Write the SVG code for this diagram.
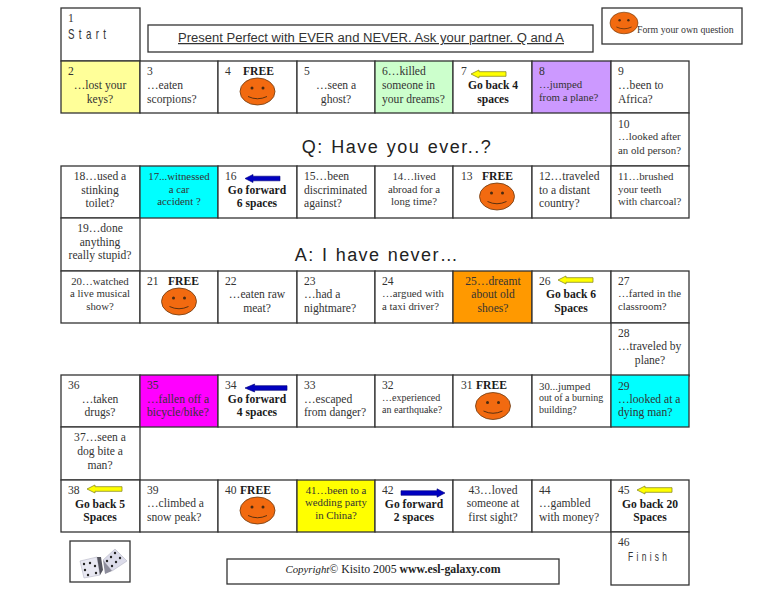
<svg xmlns="http://www.w3.org/2000/svg" xmlns:xlink="http://www.w3.org/1999/xlink" width="768" height="594" viewBox="0 0 768 594">
<style>
text{font-family:"Liberation Serif","Times New Roman",serif;font-size:11.6px;fill:#333}
.c{text-anchor:middle}
.b{font-weight:bold;fill:#1a1a1a}
.s{font-size:10.8px}
.xs{font-size:10px}
.sp{font-family:"Liberation Sans",Arial,sans-serif}
rect{stroke:#333;stroke-width:1.3;fill:#fff}
.back{fill:#ffff00;stroke:#8a8a20;stroke-width:.8}
.fwd{fill:#0000c0;stroke:#00007a;stroke-width:.6}
</style>
<defs>
<g id="smile">
<ellipse cx="0" cy="0" rx="17.500" ry="13.500" fill="#f26a10" stroke="#6b3a10" stroke-width=".8"/>
<circle cx="-5.500" cy="-3.500" r="1.500" fill="#4a2a10"/>
<circle cx="5.500" cy="-3.500" r="1.500" fill="#4a2a10"/>
<path d="M-9.500 5Q0 9.500 9.500 5" fill="none" stroke="#4a2a10" stroke-width=".9"/>
</g>
<path id="left" d="M0 0L8-4V-2.300H35V2.300H8V4Z"/>
<path id="right" d="M0-2.300H36V-4.200L44 0L36 4.200V2.300H0Z"/>
</defs>

<g id="connectors"></g>

<g id="header">
<g id="n1"><rect x="61" y="8" width="79" height="53"/><text x="68" y="22">1</text><text class="sp" transform="translate(68 39) scale(.7 1)" style="font-size:14px;letter-spacing:6.200px">Start</text></g>
<g id="title"><rect x="148" y="25" width="445" height="27"/><text x="178" y="42" class="sp" style="font-size:12.500px" textLength="386" lengthAdjust="spacingAndGlyphs" text-decoration="underline">Present Perfect with EVER and NEVER. Ask your partner. Q and A</text></g>
<g id="own"><rect x="602" y="8" width="140" height="36"/><use xlink:href="#smile" transform="translate(624 23) scale(.8)"/><text x="637" y="33" class="xs" style="font-size:9.800px">Form your own question</text></g>
</g>

<g id="n2"><rect x="61" y="61" width="79" height="52" style="fill:#ffff99"/><text x="68" y="75">2</text><text x="100" y="89" class="c">…lost your</text><text x="100" y="103" class="c">keys?</text></g>
<g id="n3"><rect x="140" y="61" width="78" height="52"/><text x="147" y="75">3</text><text x="147" y="89">…eaten</text><text x="147" y="103">scorpions?</text></g>
<g id="n4"><rect x="218" y="61" width="79" height="52"/><text x="225" y="75">4</text><text x="243" y="75" class="b">FREE</text><use xlink:href="#smile" transform="translate(257.500 91.500)"/></g>
<g id="n5"><rect x="297" y="61" width="78" height="52"/><text x="304" y="75">5</text><text x="336" y="89" class="c">…seen a</text><text x="336" y="103" class="c">ghost?</text></g>
<g id="n6"><rect x="375" y="61" width="78" height="52" style="fill:#ccffcc"/><text x="382" y="75">6…killed</text><text x="382" y="89">someone in</text><text x="382" y="103">your dreams?</text></g>
<g id="n7"><rect x="453" y="61" width="79" height="52"/><text x="461" y="75">7</text><use xlink:href="#left" class="back" transform="translate(471 74)"/><text x="493" y="89" class="c b">Go back 4</text><text x="493" y="103" class="c b">spaces</text></g>
<g id="n8"><rect x="532" y="61" width="79" height="52" style="fill:#cc99ff"/><text x="539" y="75">8</text><text x="539" y="88" class="s">…jumped</text><text x="539" y="101" class="s">from a plane?</text></g>
<g id="n9"><rect x="611" y="61" width="78" height="52"/><text x="618" y="75">9</text><text x="618" y="89">…been to</text><text x="618" y="103">Africa?</text></g>
<g id="n10"><rect x="611" y="113" width="78" height="53"/><text x="618" y="128">10</text><text x="618" y="140" class="s">…looked after</text><text x="618" y="154" class="s">an old person?</text></g>

<text x="397" y="153" class="c sp" style="font-size:18px;letter-spacing:1.500px;word-spacing:1px;fill:#222">Q: Have you ever..?</text>

<g id="n18"><rect x="61" y="166" width="79" height="52"/><text x="100" y="180" class="c">18…used a</text><text x="100" y="194" class="c">stinking</text><text x="100" y="207" class="c">toilet?</text></g>
<g id="n17"><rect x="140" y="166" width="78" height="52" style="fill:#00ffff"/><text x="179" y="180" class="c s">17...witnessed</text><text x="179" y="193" class="c s">a car</text><text x="179" y="205" class="c s">accident ?</text></g>
<g id="n16"><rect x="218" y="166" width="79" height="52"/><text x="225" y="180">16</text><use xlink:href="#left" class="fwd" transform="translate(245 178.500)"/><text x="257" y="194" class="c b">Go forward</text><text x="257" y="207" class="c b">6 spaces</text></g>
<g id="n15"><rect x="297" y="166" width="78" height="52"/><text x="304" y="180">15…been</text><text x="304" y="194">discriminated</text><text x="304" y="207">against?</text></g>
<g id="n14"><rect x="375" y="166" width="78" height="52"/><text x="414" y="180" class="c s">14…lived</text><text x="414" y="193" class="c s">abroad for a</text><text x="414" y="205" class="c s">long time?</text></g>
<g id="n13"><rect x="453" y="166" width="79" height="52"/><text x="461" y="180">13</text><text x="482" y="180" class="b">FREE</text><use xlink:href="#smile" transform="translate(497 196.500)"/></g>
<g id="n12"><rect x="532" y="166" width="79" height="52"/><text x="539" y="180">12…traveled</text><text x="539" y="194">to a distant</text><text x="539" y="207">country?</text></g>
<g id="n11"><rect x="611" y="166" width="78" height="52"/><text x="618" y="180" class="s">11…brushed</text><text x="618" y="193" class="s">your teeth</text><text x="618" y="205" class="s">with charcoal?</text></g>

<g id="n19"><rect x="61" y="218" width="79" height="53"/><text x="100" y="232" class="c">19…done</text><text x="100" y="246" class="c">anything</text><text x="100" y="259" class="c">really stupid?</text></g>
<text x="377" y="261" class="c sp" style="font-size:18px;letter-spacing:1.400px;word-spacing:1px;fill:#222">A: I have never…</text>

<g id="n20"><rect x="61" y="271" width="79" height="52"/><text x="100" y="285" class="c s">20…watched</text><text x="100" y="297" class="c s">a live musical</text><text x="100" y="310" class="c s">show?</text></g>
<g id="n21"><rect x="140" y="271" width="78" height="52"/><text x="147" y="285">21</text><text x="168" y="285" class="b">FREE</text><use xlink:href="#smile" transform="translate(179 301.500)"/></g>
<g id="n22"><rect x="218" y="271" width="79" height="52"/><text x="225" y="285">22</text><text x="257" y="298" class="c">…eaten raw</text><text x="257" y="312" class="c">meat?</text></g>
<g id="n23"><rect x="297" y="271" width="78" height="52"/><text x="304" y="285">23</text><text x="304" y="298">…had a</text><text x="304" y="312">nightmare?</text></g>
<g id="n24"><rect x="375" y="271" width="78" height="52"/><text x="382" y="285">24</text><text x="382" y="297" class="s">…argued with</text><text x="382" y="310" class="s">a taxi driver?</text></g>
<g id="n25"><rect x="453" y="271" width="79" height="52" style="fill:#ff9900"/><text x="493" y="285" class="c">25…dreamt</text><text x="493" y="298" class="c">about old</text><text x="493" y="312" class="c">shoes?</text></g>
<g id="n26"><rect x="532" y="271" width="79" height="52"/><text x="539" y="285">26</text><use xlink:href="#left" class="back" transform="translate(558 280)"/><text x="571" y="298" class="c b">Go back 6</text><text x="571" y="312" class="c b">Spaces</text></g>
<g id="n27"><rect x="611" y="271" width="78" height="52"/><text x="618" y="285">27</text><text x="618" y="297" class="s">…farted in the</text><text x="618" y="310" class="s">classroom?</text></g>
<g id="n28"><rect x="611" y="323" width="78" height="53"/><text x="618" y="337">28</text><text x="618" y="350">…traveled by</text><text x="650" y="364" class="c">plane?</text></g>

<g id="n36"><rect x="61" y="375" width="79" height="52"/><text x="68" y="389">36</text><text x="100" y="403" class="c">…taken</text><text x="100" y="416" class="c">drugs?</text></g>
<g id="n35"><rect x="140" y="375" width="78" height="52" style="fill:#ff00ff"/><text x="147" y="389">35</text><text x="147" y="403">…fallen off a</text><text x="147" y="416">bicycle/bike?</text></g>
<g id="n34"><rect x="218" y="375" width="79" height="52"/><text x="225" y="389">34</text><use xlink:href="#left" class="fwd" transform="translate(245 388)scale(1.200 1)"/><text x="257" y="403" class="c b">Go forward</text><text x="257" y="416" class="c b">4 spaces</text></g>
<g id="n33"><rect x="297" y="375" width="78" height="52"/><text x="304" y="389">33</text><text x="304" y="403">…escaped</text><text x="304" y="416">from danger?</text></g>
<g id="n32"><rect x="375" y="375" width="78" height="52"/><text x="382" y="389">32</text><text x="382" y="401" class="xs">…experienced</text><text x="382" y="413" class="xs">an earthquake?</text></g>
<g id="n31"><rect x="453" y="375" width="79" height="52"/><text x="461" y="389">31</text><text x="476" y="389" class="b">FREE</text><use xlink:href="#smile" transform="translate(493 406)"/></g>
<g id="n30"><rect x="532" y="375" width="79" height="52"/><text x="539" y="390" class="s">30...jumped</text><text x="539" y="401" class="xs">out of a burning</text><text x="539" y="413" class="xs">building?</text></g>
<g id="n29"><rect x="611" y="375" width="78" height="52" style="fill:#00ffff"/><text x="618" y="390">29</text><text x="618" y="403">…looked at a</text><text x="618" y="416">dying man?</text></g>

<g id="n37"><rect x="61" y="427" width="79" height="53"/><text x="100" y="441" class="c">37…seen a</text><text x="100" y="455" class="c">dog bite a</text><text x="100" y="469" class="c">man?</text></g>

<g id="n38"><rect x="61" y="480" width="79" height="52"/><text x="68" y="494">38</text><use xlink:href="#left" class="back" transform="translate(87 489)"/><text x="100" y="508" class="c b">Go back 5</text><text x="100" y="521" class="c b">Spaces</text></g>
<g id="n39"><rect x="140" y="480" width="78" height="52"/><text x="147" y="494">39</text><text x="147" y="507">…climbed a</text><text x="147" y="521">snow peak?</text></g>
<g id="n40"><rect x="218" y="480" width="79" height="52"/><text x="225" y="494">40</text><text x="240" y="494" class="b">FREE</text><use xlink:href="#smile" transform="translate(257.500 510.500)"/></g>
<g id="n41"><rect x="297" y="480" width="78" height="52" style="fill:#ffff00"/><text x="336" y="494" class="c s">41…been to a</text><text x="336" y="506" class="c s">wedding party</text><text x="336" y="519" class="c s">in China?</text></g>
<g id="n42"><rect x="375" y="480" width="78" height="52"/><text x="382" y="494">42</text><use xlink:href="#right" class="fwd" transform="translate(401 493)"/><text x="414" y="508" class="c b">Go forward</text><text x="414" y="521" class="c b">2 spaces</text></g>
<g id="n43"><rect x="453" y="480" width="79" height="52"/><text x="493" y="494" class="c">43…loved</text><text x="493" y="507" class="c">someone at</text><text x="493" y="521" class="c">first sight?</text></g>
<g id="n44"><rect x="532" y="480" width="79" height="52"/><text x="539" y="494">44</text><text x="539" y="507">…gambled</text><text x="539" y="521">with money?</text></g>
<g id="n45"><rect x="611" y="480" width="78" height="52"/><text x="618" y="494">45</text><use xlink:href="#left" class="back" transform="translate(637 490)"/><text x="650" y="508" class="c b">Go back 20</text><text x="650" y="521" class="c b">Spaces</text></g>
<g id="n46"><rect x="611" y="532" width="78" height="53"/><text x="618" y="546">46</text><text class="sp" transform="translate(628 561) scale(.7 1)" style="font-size:12px;letter-spacing:4.750px">Finish</text></g>

<g id="dice">
<rect x="70" y="541" width="60" height="41"/>
<path d="M80 561L97 557L100 575L84 578Z" fill="#e8e8f2" stroke="#aab" stroke-width=".5"/>
<path d="M100 575L103 570L101 557L97 557Z" fill="#55555f"/>
<path d="M103 560L115 549L127 561L112 571Z" fill="#dcdcea" stroke="#aab" stroke-width=".5"/>
<path d="M103 560L112 571L105 574Z" fill="#8d8d9c"/>
<g fill="#222"><circle cx="84" cy="564" r="1.200"/><circle cx="90" cy="563" r="1.200"/><circle cx="85" cy="570" r="1.200"/><circle cx="95" cy="566" r="1.200"/><circle cx="88" cy="575" r="1.200"/><circle cx="96" cy="573" r="1.200"/><circle cx="107" cy="561" r="1.200"/><circle cx="111" cy="557" r="1.200"/><circle cx="115" cy="553" r="1.200"/><circle cx="112" cy="566" r="1.200"/><circle cx="116" cy="562" r="1.200"/><circle cx="120" cy="558" r="1.200"/></g>
</g>
<g id="copyright"><rect x="227" y="559" width="332" height="25"/><text x="393" y="573" class="c" style="font-size:11.800px;fill:#222"><tspan font-style="italic" font-size="10.800">Copyright</tspan>© Kisito 2005 <tspan font-weight="bold">www.esl-galaxy.com</tspan></text></g>
</svg>
